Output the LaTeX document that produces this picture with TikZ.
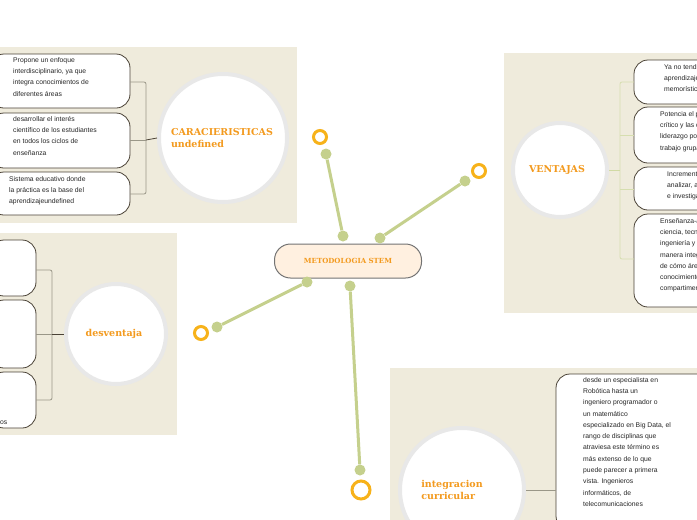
\documentclass[tikz,border=0pt]{standalone}
\usepackage{fontspec}
\setmainfont{Liberation Sans}
\newfontfamily\titlefont{DejaVu Serif}
\definecolor{panel}{HTML}{EFEBDC}
\definecolor{orng}{HTML}{F39A1E}
\definecolor{grn}{HTML}{C5D08D}
\definecolor{ring}{HTML}{F7B21A}
\definecolor{edge}{HTML}{4A4236}
\definecolor{brk}{HTML}{9A9788}
\tikzset{
  pan/.style={fill=panel,draw=none},
  circ/.style={circle,fill=white,draw=black!9,line width=4pt,inner sep=0pt},
  tbox/.style={draw=edge,fill=white,rounded corners=14pt,line width=0.8pt},
  ttl/.style={text=orng,font=\titlefont\bfseries\fontsize{9.5}{12}\selectfont,align=left},
  small/.style={font=\fontsize{6.8}{11.3}\selectfont,align=left,text=black!85,inner sep=0pt},
  link/.style={grn,line width=3pt},
  dot/.style={circle,fill=grn,minimum size=11pt,inner sep=0pt},
  rng/.style={circle,draw=ring,line width=3pt,fill=white,minimum size=13pt,inner sep=0pt},
  brack/.style={draw=brk,line width=0.8pt,rounded corners=2pt}
}
\begin{document}
\begin{tikzpicture}[x=1pt,y=-1pt]
\useasboundingbox (0,0) rectangle (697,520);
\fill[white] (0,0) rectangle (697,520);
% panels
\fill[pan] (0,47) rectangle (297,223);
\fill[pan] (0,233) rectangle (177,435);
\fill[pan] (504,53) rectangle (697,313);
\fill[pan] (390,368) rectangle (697,520);

% CARACTERISTICAS
\node[circ,minimum size=128pt] (cc) at (223,138) {};
\node[ttl] (ct) at (222,138) {CARACIERISTICAS\\undefined};
\draw[tbox] (-10,54) rectangle (130,108);
\draw[tbox] (-10,113) rectangle (130,168);
\draw[tbox] (-10,172) rectangle (130,215);
\node[small,anchor=north west] (c1) at (13,57) {Propone un enfoque\\interdisciplinario, ya que\\integra conocimientos de\\diferentes áreas};
\node[small,anchor=north west] (c2) at (13,116) {desarrollar el interés\\científico de los estudiantes\\en todos los ciclos de\\enseñanza};
\node[small,anchor=north west] (c3) at (9,176) {Sistema educativo donde\\la práctica es la base del\\aprendizajeundefined};
\draw[brack] (130,82) -- (146,82) -- (146,194) -- (130,194);
\draw[brack] (130,140) -- (146,140);
\draw[edge,line width=0.8pt] (146,140) -- (cc.west);

% desventaja
\node[circ,minimum size=100pt] (dc) at (116,334) {};
\node[ttl] (dt) at (114,334) {desventaja};
\draw[tbox] (-10,240) rectangle (36,296);
\draw[tbox] (-10,300) rectangle (36,368);
\draw[tbox] (-10,372) rectangle (36,428);
\node[small,anchor=south west] (d3) at (0,425) {os};
\draw[brack] (36,270) -- (52,270) -- (52,400) -- (36,400);
\draw[brack] (36,334) -- (52,334);
\draw[edge,line width=0.8pt] (52,334) -- (dc.west);

% VENTAJAS
\node[circ,minimum size=94pt] (vc) at (560,170) {};
\node[ttl] (vt) at (557,170) {VENTAJAS};
\draw[tbox] (634,60) rectangle (720,104);
\draw[tbox] (634,107) rectangle (720,163);
\draw[tbox] (634,167) rectangle (720,210);
\draw[tbox] (634,214) rectangle (720,307);
\node[small,anchor=north west] (v1) at (664,64) {Ya no tendremos\\aprendizaje\\memorístico};
\node[small,anchor=north west] (v2) at (660,111) {Potencia el pensamiento\\crítico y las dotes de\\liderazgo por medio del\\trabajo grupal};
\node[small,anchor=north west] (v3) at (667,171) {Incrementa la\\analizar, aprender\\e investigar};
\node[small,anchor=north west] (v4) at (660,218) {Enseñanza-aprendizaje\\ciencia, tecnología,\\ingeniería y matemáticas\\manera integrada\\de cómo áreas de\\conocimiento\\compartimentadas};
\draw[brack,draw=grn!70] (634,82) -- (620,82) -- (620,259) -- (634,259);
\draw[brack,draw=grn!70] (634,135) -- (620,135);
\draw[brack,draw=grn!70] (634,189) -- (620,189);
\draw[grn!80,line width=0.8pt] (vc.east) -- (620,170);

% integracion
\node[circ,minimum size=124pt] (ic) at (462,490) {};
\node[ttl] (it) at (452,490) {integracion\\curricular};
\draw[tbox] (556,374) -- (556,530) -- (720,530) -- (720,374) -- cycle;
\node[small,anchor=north west] (i1) at (583,377) {desde un especialista en\\Robótica hasta un\\ingeniero programador o\\un matemático\\especializado en Big Data, el\\rango de disciplinas que\\atraviesa este término es\\más extenso de lo que\\puede parecer a primera\\vista. Ingenieros\\informáticos, de\\telecomunicaciones};
\draw[brk,line width=0.8pt] (ic.east) -- (556,490);

% center
\node[draw=black!55,fill=orange!12,rounded corners=16pt,minimum width=147pt,minimum height=34pt,line width=1pt,text=orng,font=\titlefont\bfseries\fontsize{7}{8}\selectfont] (m) at (348,261) {METODOLOGIA STEM};

% connectors
\node[dot] (a1) at (343,236) {}; \node[dot] (a2) at (326,154) {}; \node[rng] (r1) at (320,137) {};
\node[dot] (b1) at (380,238) {}; \node[dot] (b2) at (465,181) {}; \node[rng] (r2) at (479,171) {};
\node[dot] (e1) at (307,282) {}; \node[dot] (e2) at (217,327) {}; \node[rng] (r3) at (201,333) {};
\node[dot] (f1) at (350,286) {}; \node[dot] (f2) at (360,470) {}; \node[rng,minimum size=18pt] (r4) at (361,490) {};
\draw[link] (a1) -- (a2); \draw[link] (b1) -- (b2); \draw[link] (e1) -- (e2); \draw[link] (f1) -- (f2);
\end{tikzpicture}
\end{document}
